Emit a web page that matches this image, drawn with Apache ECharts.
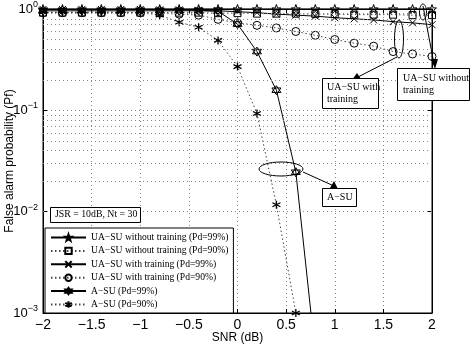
<!DOCTYPE html>
<html>
<head>
<meta charset="utf-8">
<script src="https://cdn.jsdelivr.net/npm/echarts@6/dist/echarts.min.js"></script>
<style>html,body{margin:0;padding:0;background:#fff}#c{width:474px;height:346px}</style>
</head>
<body>
<div id="c"></div>
<script>
// ---- data ----
const snr = [-2,-1.8,-1.6,-1.4,-1.2,-1,-0.8,-0.6,-0.4,-0.2,0,0.2,0.4,0.6,0.8,1,1.2,1.4,1.6,1.8,2];
const uaNoTrain99 = [1,1,1,1,1,1,1,1,1,1,1,1,1,1,1,1,1,1,1,1,1];
const uaNoTrain90 = [0.92,0.92,0.92,0.92,0.92,0.92,0.92,0.92,0.92,0.91,0.91,0.9,0.9,0.9,0.89,0.89,0.88,0.88,0.88,0.87,0.87];
const uaTrain99 = [0.99,0.99,0.99,0.99,0.99,0.99,0.98,0.98,0.97,0.96,0.94,0.92,0.89,0.87,0.85,0.82,0.8,0.78,0.75,0.73,0.7];
const uaTrain90 = [0.92,0.92,0.92,0.92,0.92,0.92,0.91,0.89,0.87,0.79,0.73,0.69,0.65,0.6,0.55,0.5,0.46,0.43,0.38,0.36,0.34];
const aSu99 = [0.96,0.96,0.96,0.96,0.96,0.96,0.96,0.96,0.96,0.95,0.71,0.38,0.158,0.0245,0.0004,null,null,null,null,null,null];
const aSu90 = [0.93,0.93,0.93,0.93,0.93,0.92,0.87,0.74,0.66,0.49,0.27,0.093,0.0117,0.001,null,null,null,null,null,null,null];
const seriesNames = [
  'UA\u2212SU without training (Pd=99%)',
  'UA\u2212SU without training (Pd=90%)',
  'UA\u2212SU with training (Pd=99%)',
  'UA\u2212SU with training (Pd=90%)',
  'A\u2212SU (Pd=99%)',
  'A\u2212SU (Pd=90%)'
];
const xTicks = [-2,-1.5,-1,-0.5,0,0.5,1,1.5,2];
const yMinorGrid = [0.002,0.003,0.004,0.005,0.006,0.007,0.008,0.009,0.02,0.03,0.04,0.05,0.06,0.07,0.08,0.09,0.2,0.3,0.4,0.5,0.6,0.7,0.8,0.9];
const noteJSR = 'JSR = 10dB, Nt = 30';
const noteTrain = ['UA\u2212SU with', 'training'];
const noteNoTrain = ['UA\u2212SU without', 'training'];
const noteASU = 'A\u2212SU';

// ---- symbols ----
const SYM_STAR = 'path://M0,-10 L2.35,-3.24 L9.51,-3.09 L3.8,1.24 L5.88,8.09 L0,4 L-5.88,8.09 L-3.8,1.24 L-9.51,-3.09 L-2.35,-3.24 Z';
const SYM_X = 'path://M-5,-5 L5,5 M-5,5 L5,-5';
const SYM_HEX = 'path://M0,-10 L8.66,5 L-8.66,5 Z M0,10 L-8.66,-5 L8.66,-5 Z';
const SYM_AST = 'path://M0,-10 L0,10 M-8.66,-5 L8.66,5 M-8.66,5 L8.66,-5';

const pairs = arr => snr.map((x, i) => [x, arr[i]]);
const solid = {color: '#000', width: 1, type: 'solid'};
const dotted = {color: '#444', width: 1, type: [1.5, 2.5]};
const hollow = (bw) => ({color: 'rgba(255,255,255,0)', borderColor: '#000', borderWidth: bw || 1});

function mkSeries(name, arr, sym, size, ls, extra) {
  return Object.assign({
    name, type: 'line', data: pairs(arr), symbol: sym, symbolSize: size,
    showAllSymbol: true, lineStyle: ls, itemStyle: hollow(1), clip: true,
    emphasis: {disabled: true}, z: 3
  }, extra || {});
}

const SERIF = '"Liberation Serif", "Times New Roman", serif';
const SANS = '"Liberation Sans", Arial, sans-serif';
const gridLine = {show: true, lineStyle: {color: '#888', type: [1, 3], width: 1}};
const tick = {inside: true, length: 4, lineStyle: {color: '#000'}};
const axLine = {onZero: false, lineStyle: {color: '#000'}};

const chart = echarts.init(document.getElementById('c'), null, {renderer: 'canvas'});
const option = {
  animation: false,
  backgroundColor: '#fff',
  grid: {left: 43, right: 42, top: 9, bottom: 33, containLabel: false, outerBoundsMode: 'none',
    show: true, borderColor: '#000', borderWidth: 1, backgroundColor: 'transparent'},
  xAxis: [{
    type: 'value', min: -2, max: 2, interval: 0.5,
    name: 'SNR (dB)', nameLocation: 'middle', nameGap: 19, nameMoveOverlap: false,
    nameTextStyle: {fontFamily: SANS, fontSize: 12, color: '#000'},
    axisLine: axLine, axisTick: tick,
    axisLabel: {fontFamily: SANS, fontSize: 14, color: '#000', margin: 5,
      formatter: v => (xTicks.indexOf(v) >= 0 ? String(v).replace('-', '\u2212') : '')},
    splitLine: gridLine
  }, {
    type: 'value', position: 'top', min: -2, max: 2, interval: 0.5,
    axisLine: axLine, axisTick: tick,
    axisLabel: {show: false}, splitLine: {show: false}
  }],
  yAxis: [{
    type: 'log', logBase: 10, min: 0.001, max: 1,
    name: 'False alarm probability (Pf)', nameLocation: 'middle', nameGap: 27, nameMoveOverlap: false,
    nameTextStyle: {fontFamily: SANS, fontSize: 12, color: '#000'},
    axisLine: axLine, axisTick: tick,
    axisLabel: {
      margin: 5, color: '#000',
      formatter: v => {
        const e = Math.round(Math.log10(v));
        return '{b|10}{e|' + (e === 0 ? '0' : '\u2212' + (-e)) + '}';
      },
      rich: {
        b: {fontFamily: SANS, fontSize: 13, color: '#000'},
        e: {fontFamily: SANS, fontSize: 9, color: '#000', verticalAlign: 'top', padding: [0, 0, 9, 0]}
      }
    },
    splitLine: gridLine
  }, {
    type: 'log', logBase: 10, min: 0.001, max: 1, position: 'right',
    axisLine: axLine, axisTick: tick,
    axisLabel: {show: false}, splitLine: {show: false}
  }],
  legend: {
    orient: 'vertical', left: 45, top: 228,
    backgroundColor: '#fff', borderColor: '#000', borderWidth: 1,
    padding: [4, 5, 3, 5], itemWidth: 35, itemHeight: 8, itemGap: 2.4,
    textStyle: {fontFamily: SERIF, fontSize: 9.6, lineHeight: 11, color: '#000'},
    data: seriesNames, z: 10
  },
  series: [
    mkSeries(seriesNames[0], uaNoTrain99, SYM_STAR, 9, solid),
    mkSeries(seriesNames[1], uaNoTrain90, 'rect', 7, dotted),
    mkSeries(seriesNames[2], uaTrain99, SYM_X, 7, solid),
    mkSeries(seriesNames[3], uaTrain90, 'circle', 8, dotted),
    mkSeries(seriesNames[4], aSu99, SYM_HEX, 9, solid),
    mkSeries(seriesNames[5], aSu90, SYM_AST, 8, dotted, {itemStyle: hollow(1.3)}),
    {
      type: 'line', data: [], silent: true,
      markLine: {
        silent: true, symbol: 'none', label: {show: false},
        lineStyle: {color: '#888', type: [1, 3], width: 1},
        data: yMinorGrid.map(v => ({yAxis: v}))
      }
    }
  ],
  graphic: [
    // JSR note
    {type: 'rect', left: 50, top: 207, shape: {width: 90, height: 15}, style: {fill: '#fff', stroke: '#000', lineWidth: 1}, z: 20},
    {type: 'text', left: 55, top: 209.5, style: {text: noteJSR, font: '9.8px ' + SERIF, fill: '#000'}, z: 21},
    // ellipses
    {type: 'ellipse', shape: {cx: 399, cy: 39, rx: 4.5, ry: 19}, style: {fill: 'none', stroke: '#000', lineWidth: 1}, z: 20},
    {type: 'ellipse', shape: {cx: 423, cy: 12, rx: 3.5, ry: 8}, style: {fill: 'none', stroke: '#000', lineWidth: 1}, z: 20},
    {type: 'ellipse', shape: {cx: 281, cy: 169, rx: 22, ry: 7}, style: {fill: 'none', stroke: '#000', lineWidth: 1}, z: 20},
    // arrows
    {type: 'line', shape: {x1: 397, y1: 57, x2: 356, y2: 78}, style: {stroke: '#000', lineWidth: 1}, z: 20},
    {type: 'polygon', shape: {points: [[352, 80], [357, 73], [361, 79]]}, style: {fill: '#000'}, z: 20},
    {type: 'line', shape: {x1: 423, y1: 6, x2: 434, y2: 64}, style: {stroke: '#000', lineWidth: 1}, z: 20},
    {type: 'polygon', shape: {points: [[435, 69], [431, 59], [438, 59]]}, style: {fill: '#000'}, z: 20},
    {type: 'line', shape: {x1: 303, y1: 172, x2: 334, y2: 186}, style: {stroke: '#000', lineWidth: 1}, z: 20},
    {type: 'polygon', shape: {points: [[338, 189], [330, 188], [334, 181]]}, style: {fill: '#000'}, z: 20},
    // text boxes
    {type: 'rect', left: 322, top: 78, shape: {width: 56, height: 30}, style: {fill: '#fff', stroke: '#000', lineWidth: 1}, z: 20},
    {type: 'text', left: 327, top: 81, style: {text: noteTrain.join('\n'), font: '10px ' + SERIF, fill: '#000', lineHeight: 12}, z: 21},
    {type: 'rect', left: 397, top: 68, shape: {width: 72, height: 32}, style: {fill: '#fff', stroke: '#000', lineWidth: 1}, z: 20},
    {type: 'text', left: 403, top: 72, style: {text: noteNoTrain.join('\n'), font: '10px ' + SERIF, fill: '#000', lineHeight: 12}, z: 21},
    {type: 'rect', left: 322, top: 188, shape: {width: 34, height: 18}, style: {fill: '#fff', stroke: '#000', lineWidth: 1}, z: 20},
    {type: 'text', left: 327, top: 192, style: {text: noteASU, font: '10px ' + SERIF, fill: '#000'}, z: 21}
  ]
};
chart.setOption(option);
</script>
</body>
</html>
